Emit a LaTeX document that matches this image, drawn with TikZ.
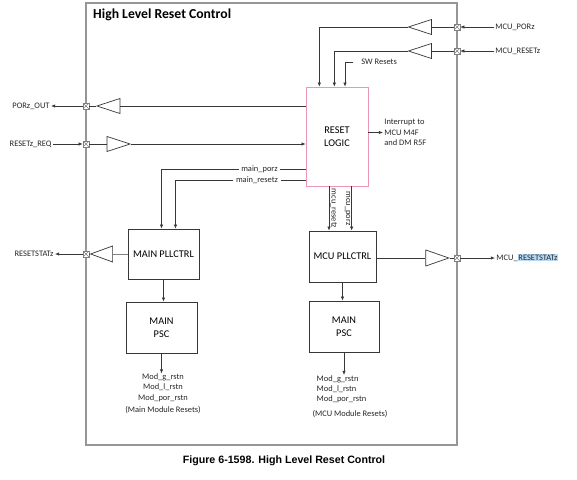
\documentclass[tikz,border=0pt]{standalone}
\usepackage{fontspec}
\setmainfont{Carlito}
\newfontfamily\captionfont{Liberation Sans}
\usepackage{xcolor}
\usetikzlibrary{arrows.meta,shapes.geometric,positioning}
\definecolor{wirec}{RGB}{55,55,55}
\definecolor{framec}{RGB}{150,150,150}
\definecolor{logicc}{RGB}{238,150,185}
\definecolor{selc}{RGB}{185,218,245}
\tikzset{
	>={Latex[length=3.5pt,width=3pt]},
	wire/.style={draw=wirec, line width=0.6pt},
	blk/.style={
			draw=wirec,
			line width=0.6pt,
			rectangle,
			inner sep=0pt,
			align=center,
			font=\fontsize{8.8}{11}\selectfont
		},
	port/.style={
			draw=gray,
			fill=white,
			rectangle,
			minimum size=0.18cm,
			inner sep=0pt,
			line width=0.5pt,
			path picture={\draw[gray, line width=0.4pt]
				(path picture bounding box.south west) -- (path picture bounding box.north east)
				(path picture bounding box.north west) -- (path picture bounding box.south east);}
		},
	buf/.style={
			draw=wirec,
			fill=white,
			line width=0.6pt,
			isosceles triangle,
			isosceles triangle stretches,
			minimum width=0.45cm,
			minimum height=0.69cm,
			inner sep=0pt
		},
	bufl/.style={buf, shape border rotate=180},
	lbl/.style={inner sep=1pt, text=black!85, font=\fontsize{7.2}{8.8}\selectfont}
}

\begin{document}
\begin{tikzpicture}[x=0.03cm, y=-0.03cm]
    \useasboundingbox (0,0) rectangle (577,480);
    \draw[framec, line width=0.9pt] (86,3) rectangle (457,445);
    \node[anchor=west, inner sep=0pt, font=\fontsize{11.7}{14}\selectfont\bfseries] at (93,15) (title) {High Level Reset Control};

    % blocks
    \node[blk, draw=logicc, minimum width=1.86cm, minimum height=2.97cm] at (337,136.5) (logic) {RESET\\LOGIC};
    \node[blk, minimum width=2.13cm, minimum height=1.5cm] at (163.5,254) (mainpll) {MAIN PLLCTRL};
    \node[blk, minimum width=2.13cm, minimum height=1.53cm, font=\fontsize{8.8}{11.3}\selectfont] at (161.5,327.5) (mainpsc) {MAIN\\PSC};
    \node[blk, minimum width=2.01cm, minimum height=1.53cm] at (342.5,256.5) (mcupll) {MCU PLLCTRL};
    \node[blk, minimum width=2.1cm, minimum height=1.53cm, font=\fontsize{8.8}{11.3}\selectfont] at (344,326.5) (mcupsc) {MAIN\\PSC};

    % pads
    \node[port] at (86,106) (pPorOut) {};
    \node[port] at (86,144) (pRstReq) {};
    \node[port] at (86,254) (pStat) {};
    \node[port] at (457,27) (pMcuPor) {};
    \node[port] at (457,51) (pMcuRst) {};
    \node[port] at (457,258) (pMcuStat) {};

    % buffers
    \node[bufl] at (114.5,106) (bPorOut) {};
    \node[buf] at (112.5,144) (bRstReq) {};
    \node[bufl, minimum width=0.48cm, minimum height=0.66cm] at (107,254) (bStat) {};
    \node[bufl] at (426,27) (bMcuPor) {};
    \node[bufl] at (426,51) (bMcuRst) {};
    \node[buf, minimum width=0.48cm] at (431.5,258) (bMcuStat) {};

    % labels
    \node[lbl, anchor=east] at (51,106) (lPorOut) {PORz\_OUT};
    \node[lbl, anchor=east] at (53,144) (lRstReq) {RESETz\_REQ};
    \node[lbl, anchor=east] at (55,254) (lStat) {RESETSTATz};
    \node[lbl, anchor=west] at (494,27) (lMcuPor) {MCU\_PORz};
    \node[lbl, anchor=west] at (494,51) (lMcuRst) {MCU\_RESETz};
    \node[lbl, anchor=west] at (495,258) (lMcuStat) {MCU\_{\fboxsep=0.6pt\colorbox{selc}{RESETSTATz}}};
    \node[lbl, anchor=west] at (360,62) (lSw) {SW Resets};
    \node[lbl, anchor=west, align=left] at (383,132.5) (lInt) {Interrupt to\\MCU M4F\\and DM R5F};
    \node[lbl, inner sep=2pt] at (259.5,169) (lPorz) {main\_porz};
    \node[lbl, inner sep=2pt] at (257,180) (lResetz) {main\_resetz};
    \node[lbl, anchor=north, align=center, inner sep=0pt] at (163,373.5) (lMainMods) {Mod\_g\_rstn\\Mod\_l\_rstn\\Mod\_por\_rstn\\[1.7pt](Main Module Resets)};
    \node[lbl, anchor=north west, align=left, inner sep=0pt] at (316.5,375) (lMcuMods) {Mod\_g\_rstn\\Mod\_l\_rstn\\Mod\_por\_rstn};
    \node[lbl] at (350,414) (lMcuNote) {(MCU Module Resets)};

    \node[font=\captionfont\bfseries\fontsize{9.1}{11}\selectfont] at (284,461) (caption) {Figure 6-1598. High Level Reset Control};

    % left side
    \draw[wire] (logic.west |- bPorOut.east) -- (bPorOut.east);
    \draw[wire] (bPorOut.west) -- (pPorOut.east);
    \draw[wire,->] (pPorOut.west) -- (lPorOut.east);
    \draw[wire,->] (lRstReq.east) -- (pRstReq.west);
    \draw[wire] (pRstReq.east) -- (bRstReq.west);
    \draw[wire,->] (bRstReq.east) -- (logic.west |- bRstReq.east);

    \draw[wire] (logic.west |- lPorz.east) -- (lPorz.east);
    \draw[wire,->] (lPorz.west) -| ([xshift=-0.06cm]mainpll.north);
    \draw[wire] (logic.west |- lResetz.east) -- (lResetz.east);
    \draw[wire,->] (lResetz.west) -| ([xshift=0.36cm]mainpll.north);

    \draw[wire, draw=gray] (mainpll.west) -- (bStat.east);
    \draw[wire] (bStat.west) -- (pStat.east);
    \draw[wire,->] (pStat.west) -- (lStat.east);

    \draw[wire,->] (mainpll.south) -- (mainpll.south |- mainpsc.north);
    \draw[wire,->] (mainpsc.south) -- (mainpsc.south |- lMainMods.north);

    % right side
    \draw[wire,->] (lMcuPor.west) -- (pMcuPor.east);
    \draw[wire] (pMcuPor.west) -- (bMcuPor.east);
    \draw[wire,->] (bMcuPor.west) -| ([xshift=-0.53cm]logic.north);
    \draw[wire,->] (lMcuRst.west) -- (pMcuRst.east);
    \draw[wire] (pMcuRst.west) -- (bMcuRst.east);
    \draw[wire,->] (bMcuRst.west) -| ([xshift=-0.08cm]logic.north);
    \draw[wire,->] ([xshift=-0.2cm]lSw.west) -| ([xshift=0.24cm]logic.north);
    \draw[wire,->] (logic.east |- lInt.west) -- (lInt.west);

    \draw[wire,->] ([xshift=-0.24cm]logic.south) -- ([xshift=-0.24cm]logic.south |- mcupll.north)
        node[lbl, midway, sloped, above] {mcu\_resetz};
    \draw[wire,->] ([xshift=0.44cm]logic.south) -- ([xshift=0.44cm]logic.south |- mcupll.north)
        node[lbl, midway, sloped, below] {mcu\_porz};

    \draw[wire,->] (mcupll.south) -- (mcupll.south |- mcupsc.north);
    \draw[wire,->] (mcupsc.south) -- (mcupsc.south |- lMcuMods.north);
    \draw[wire] (mcupll.east |- bMcuStat.west) -- (bMcuStat.west);
    \draw[wire] (bMcuStat.east) -- (pMcuStat.west);
    \draw[wire,->] (pMcuStat.east) -- (lMcuStat.west);
\end{tikzpicture}
\end{document}
